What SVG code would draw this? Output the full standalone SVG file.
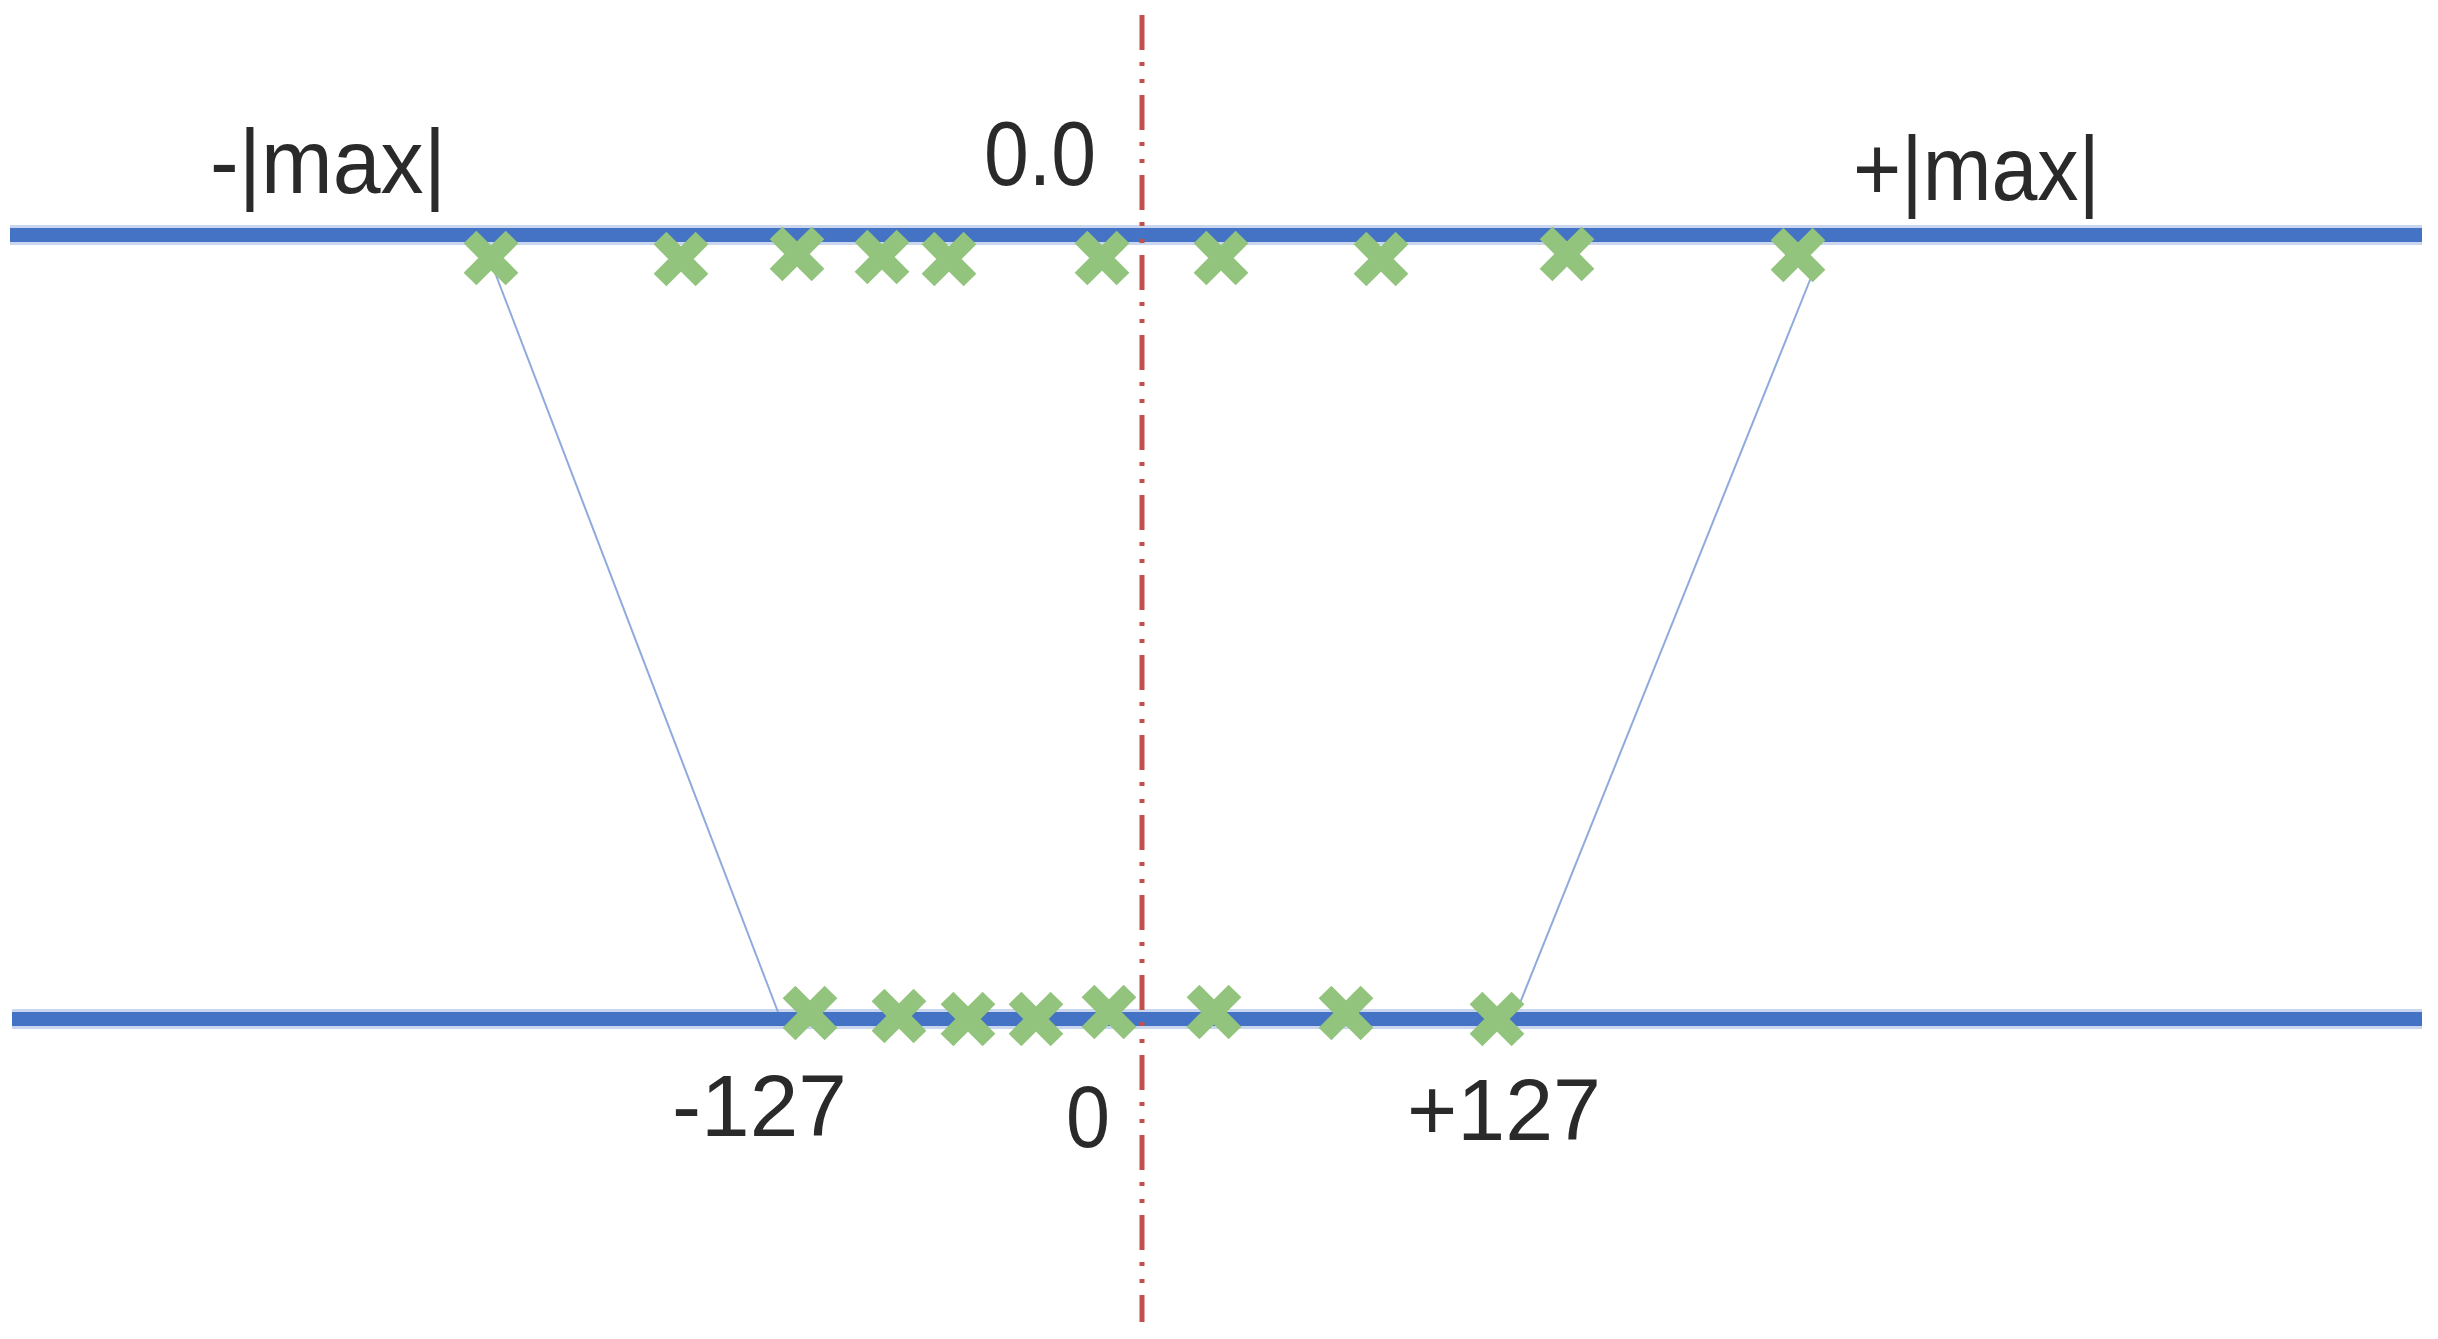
<svg xmlns="http://www.w3.org/2000/svg" xmlns:xlink="http://www.w3.org/1999/xlink" width="2438" height="1339" viewBox="0 0 2438 1339">
  <style>
    .axis-halo { stroke: #C9D6EE; stroke-width: 20; fill: none; }
    .axis { stroke: #4472C4; stroke-width: 14; fill: none; }
    .map { stroke: #8FAADC; stroke-width: 2; fill: none; }
    .center { stroke: #C0504D; stroke-width: 5; fill: none; stroke-dasharray: 35 12 4 13 4 12; }
    .lbl { font-family: "Liberation Sans", Arial, sans-serif; font-size: 90px; fill: #2A2A2A; }
    .lbl2 { font-family: "Liberation Sans", Arial, sans-serif; font-size: 88px; fill: #2A2A2A; }
  </style>
  <defs>
    <g id="xmark">
      <path d="M-21,-21 L21,21 M21,-21 L-21,21" stroke="#93C47D" stroke-width="18" fill="none"/>
    </g>
  </defs>
  <rect width="2438" height="1339" fill="#FFFFFF"/>

  <g id="top-axis">
    <line class="axis-halo" x1="10" y1="235" x2="2422" y2="235"/>
    <line class="axis" x1="10" y1="235" x2="2422" y2="235"/>
  </g>
  <g id="bottom-axis">
    <line class="axis-halo" x1="12" y1="1019" x2="2422" y2="1019"/>
    <line class="axis" x1="12" y1="1019" x2="2422" y2="1019"/>
  </g>

  <g id="connectors">
    <line class="map" x1="494" y1="270" x2="778" y2="1012"/>
    <line class="map" x1="1814" y1="270" x2="1518" y2="1008"/>
  </g>

  <g id="top-values">
    <use xlink:href="#xmark" x="491" y="258"/>
    <use xlink:href="#xmark" x="681" y="259"/>
    <use xlink:href="#xmark" x="797" y="254"/>
    <use xlink:href="#xmark" x="882" y="257"/>
    <use xlink:href="#xmark" x="949" y="259"/>
    <use xlink:href="#xmark" x="1102" y="258"/>
    <use xlink:href="#xmark" x="1221" y="258"/>
    <use xlink:href="#xmark" x="1381" y="259"/>
    <use xlink:href="#xmark" x="1567" y="254"/>
    <use xlink:href="#xmark" x="1798" y="255"/>
  </g>

  <g id="bottom-values">
    <use xlink:href="#xmark" x="810" y="1013"/>
    <use xlink:href="#xmark" x="899" y="1016"/>
    <use xlink:href="#xmark" x="968" y="1019"/>
    <use xlink:href="#xmark" x="1036" y="1019"/>
    <use xlink:href="#xmark" x="1109" y="1012"/>
    <use xlink:href="#xmark" x="1214" y="1012"/>
    <use xlink:href="#xmark" x="1346" y="1013"/>
    <use xlink:href="#xmark" x="1497" y="1019"/>
  </g>

  <g id="center-line">
    <line class="center" x1="1142" y1="15" x2="1142" y2="1322"/>
  </g>

  <g id="labels">
    <text class="lbl" x="210" y="193" textLength="236" lengthAdjust="spacingAndGlyphs">-|max|</text>
    <text class="lbl" x="984" y="185" textLength="112" lengthAdjust="spacingAndGlyphs">0.0</text>
    <text class="lbl" x="1853" y="200" textLength="247" lengthAdjust="spacingAndGlyphs">+|max|</text>
    <text class="lbl2" x="672" y="1136" textLength="175" lengthAdjust="spacingAndGlyphs">-127</text>
    <text class="lbl2" x="1066" y="1147" textLength="44" lengthAdjust="spacingAndGlyphs">0</text>
    <text class="lbl2" x="1407" y="1140" textLength="194" lengthAdjust="spacingAndGlyphs">+127</text>
  </g>
</svg>
